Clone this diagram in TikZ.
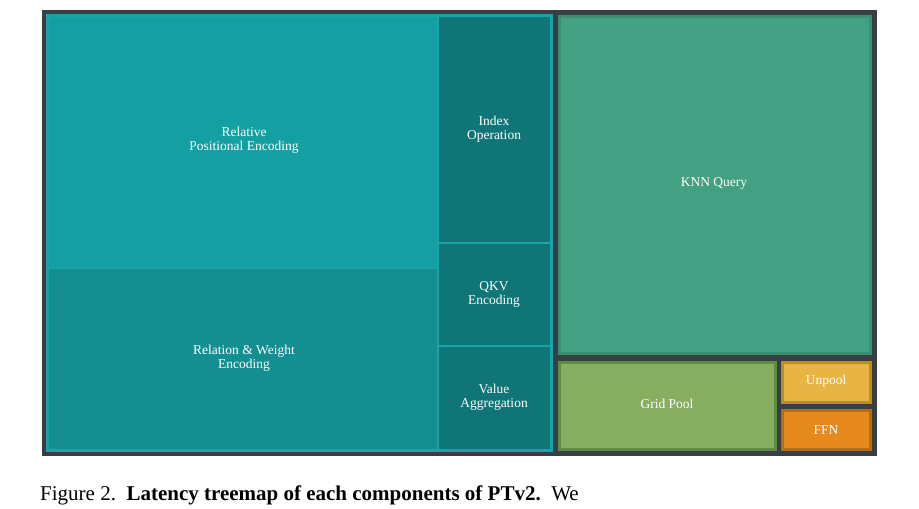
\documentclass[tikz,border=0pt]{standalone}
\usepackage{fontspec}
\setmainfont{Liberation Serif}
\definecolor{frame}{HTML}{383F44}
\definecolor{tealA}{HTML}{14A0A2}
\definecolor{tealB}{HTML}{138E91}
\definecolor{tealC}{HTML}{0F7577}
\definecolor{tealBd}{HTML}{1AA3A8}
\definecolor{knn}{HTML}{43A082}
\definecolor{knnBd}{HTML}{3A8F73}
\definecolor{grid}{HTML}{88AE62}
\definecolor{gridBd}{HTML}{5F8B45}
\definecolor{unp}{HTML}{E8B443}
\definecolor{unpBd}{HTML}{B8901F}
\definecolor{ffn}{HTML}{E68A1D}
\definecolor{ffnBd}{HTML}{B56C12}
\begin{document}
\begin{tikzpicture}[x=1pt,y=-1pt,
  cell/.style={line width=2.5pt,inner sep=0pt},
  lab/.style={text=white,font=\fontsize{13.5}{14}\selectfont,align=center}]
\useasboundingbox (0,0) rectangle (919,509);
\fill[frame] (42,10) rectangle (877,456);
\fill[tealBd] (46,14) rectangle (553,452);
\draw[cell,tealBd,fill=tealA] (48,16) rectangle (438,268);
\draw[cell,tealBd,fill=tealB] (48,268) rectangle (438,450);
\draw[cell,tealBd,fill=tealC] (438,16) rectangle (551,243);
\draw[cell,tealBd,fill=tealC] (438,243) rectangle (551,346);
\draw[cell,tealBd,fill=tealC] (438,346) rectangle (551,450);
\draw[cell,knnBd,fill=knn] (559.5,16.5) rectangle (870.5,353.5);
\draw[cell,gridBd,fill=grid] (559.5,362.5) rectangle (775.5,449.5);
\draw[cell,unpBd,fill=unp] (782.5,362.5) rectangle (870.5,402.5);
\draw[cell,ffnBd,fill=ffn] (782.5,410.5) rectangle (870.5,449.5);
\node[lab] (rpe) at (244,140) {Relative\\Positional Encoding};
\node[lab] (rwe) at (244,358) {Relation \& Weight\\Encoding};
\node[lab] (idx) at (494,129) {Index\\Operation};
\node[lab] (qkv) at (494,294) {QKV\\Encoding};
\node[lab] (val) at (494,397) {Value\\Aggregation};
\node[lab] (knnq) at (714,183) {KNN Query};
\node[lab] (gp) at (667,404) {Grid Pool};
\node[lab] (up) at (826,381) {Unpool};
\node[lab] (ff) at (826,430) {FFN};
\node[anchor=base west,inner sep=0pt,font=\fontsize{21}{24}\selectfont] (cap) at (40,500)
 {Figure 2.\ \ \textbf{Latency treemap of each components of PTv2.}\ \ We};
\end{tikzpicture}
\end{document}
